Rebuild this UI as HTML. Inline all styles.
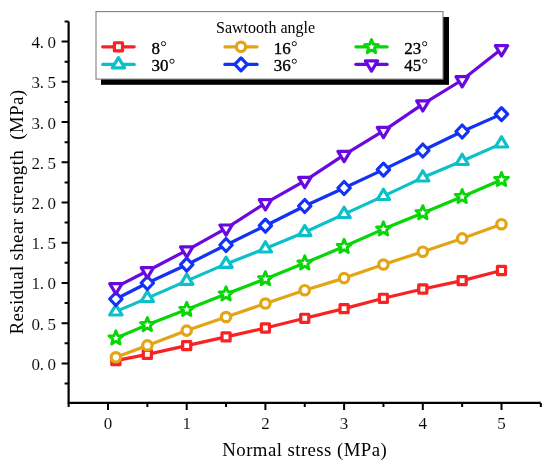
<!DOCTYPE html>
<html><head><meta charset="utf-8"><style>
html,body{margin:0;padding:0;background:#fff;width:550px;height:465px;overflow:hidden}
svg{display:block;will-change:transform}
text{font-family:"Liberation Serif",serif;fill:#000}
.tl text{stroke:#fff;stroke-width:0.1px}
.lg text{stroke:#000;stroke-width:0.35px}
</style></head><body>
<svg width="550" height="465" viewBox="0 0 550 465">
<rect width="550" height="465" fill="#fff"/>

<path d="M68.6 21.6V402.9H540.8" fill="none" stroke="#000" stroke-width="2.2" stroke-linejoin="miter"/>
<path d="M64.6 383.51H68.6M61.599999999999994 363.40H68.6M64.6 343.29H68.6M61.599999999999994 323.17H68.6M64.6 303.06H68.6M61.599999999999994 282.95H68.6M64.6 262.84H68.6M61.599999999999994 242.72H68.6M64.6 222.61H68.6M61.599999999999994 202.50H68.6M64.6 182.39H68.6M61.599999999999994 162.27H68.6M64.6 142.16H68.6M61.599999999999994 122.05H68.6M64.6 101.94H68.6M61.599999999999994 81.82H68.6M64.6 61.71H68.6M61.599999999999994 41.60H68.6M64.6 21.49H68.6M68.65 402.9V406.9M108.00 402.9V409.9M147.35 402.9V406.9M186.70 402.9V409.9M226.05 402.9V406.9M265.40 402.9V409.9M304.75 402.9V406.9M344.10 402.9V409.9M383.45 402.9V406.9M422.80 402.9V409.9M462.15 402.9V406.9M501.50 402.9V409.9M540.85 402.9V406.9" fill="none" stroke="#000" stroke-width="2"/>
<g class="tl" transform="translate(0 369.90)"><text x="31.6" y="0" font-size="17">0</text><text x="39.8" y="0" font-size="17">.</text><text x="47.6" y="0" font-size="17">0</text></g>
<g class="tl" transform="translate(0 329.67)"><text x="31.6" y="0" font-size="17">0</text><text x="39.8" y="0" font-size="17">.</text><text x="47.6" y="0" font-size="17">5</text></g>
<g class="tl" transform="translate(0 289.45)"><text x="31.6" y="0" font-size="17">1</text><text x="39.8" y="0" font-size="17">.</text><text x="47.6" y="0" font-size="17">0</text></g>
<g class="tl" transform="translate(0 249.22)"><text x="31.6" y="0" font-size="17">1</text><text x="39.8" y="0" font-size="17">.</text><text x="47.6" y="0" font-size="17">5</text></g>
<g class="tl" transform="translate(0 209.00)"><text x="31.6" y="0" font-size="17">2</text><text x="39.8" y="0" font-size="17">.</text><text x="47.6" y="0" font-size="17">0</text></g>
<g class="tl" transform="translate(0 168.77)"><text x="31.6" y="0" font-size="17">2</text><text x="39.8" y="0" font-size="17">.</text><text x="47.6" y="0" font-size="17">5</text></g>
<g class="tl" transform="translate(0 128.55)"><text x="31.6" y="0" font-size="17">3</text><text x="39.8" y="0" font-size="17">.</text><text x="47.6" y="0" font-size="17">0</text></g>
<g class="tl" transform="translate(0 88.32)"><text x="31.6" y="0" font-size="17">3</text><text x="39.8" y="0" font-size="17">.</text><text x="47.6" y="0" font-size="17">5</text></g>
<g class="tl" transform="translate(0 48.10)"><text x="31.6" y="0" font-size="17">4</text><text x="39.8" y="0" font-size="17">.</text><text x="47.6" y="0" font-size="17">0</text></g>
<g class="tl" transform="translate(108.00 429.3)"><text x="0" y="0" font-size="17" text-anchor="middle">0</text></g>
<g class="tl" transform="translate(186.70 429.3)"><text x="0" y="0" font-size="17" text-anchor="middle">1</text></g>
<g class="tl" transform="translate(265.40 429.3)"><text x="0" y="0" font-size="17" text-anchor="middle">2</text></g>
<g class="tl" transform="translate(344.10 429.3)"><text x="0" y="0" font-size="17" text-anchor="middle">3</text></g>
<g class="tl" transform="translate(422.80 429.3)"><text x="0" y="0" font-size="17" text-anchor="middle">4</text></g>
<g class="tl" transform="translate(501.50 429.3)"><text x="0" y="0" font-size="17" text-anchor="middle">5</text></g>
<text x="222.3" y="456.4" font-size="18.8" textLength="164.5" lengthAdjust="spacing">Normal stress (MPa)</text>
<text transform="translate(23.1 334.5) rotate(-90)" x="0" y="0" font-size="19" textLength="244.5" lengthAdjust="spacing" xml:space="preserve">Residual shear strength  (MPa)</text>
<polyline points="115.87,360.60 147.35,354.40 186.70,345.60 226.05,336.90 265.40,328.00 304.75,318.30 344.10,308.60 383.45,298.30 422.80,289.00 462.15,280.60 501.50,270.50" fill="none" stroke="#f82222" stroke-width="3.2" stroke-linejoin="round"/>
<rect x="111.82" y="356.55" width="8.1" height="8.1" fill="#fff" stroke="#f82222" stroke-width="3.2" stroke-linejoin="round"/>
<rect x="143.30" y="350.35" width="8.1" height="8.1" fill="#fff" stroke="#f82222" stroke-width="3.2" stroke-linejoin="round"/>
<rect x="182.65" y="341.55" width="8.1" height="8.1" fill="#fff" stroke="#f82222" stroke-width="3.2" stroke-linejoin="round"/>
<rect x="222.00" y="332.85" width="8.1" height="8.1" fill="#fff" stroke="#f82222" stroke-width="3.2" stroke-linejoin="round"/>
<rect x="261.35" y="323.95" width="8.1" height="8.1" fill="#fff" stroke="#f82222" stroke-width="3.2" stroke-linejoin="round"/>
<rect x="300.70" y="314.25" width="8.1" height="8.1" fill="#fff" stroke="#f82222" stroke-width="3.2" stroke-linejoin="round"/>
<rect x="340.05" y="304.55" width="8.1" height="8.1" fill="#fff" stroke="#f82222" stroke-width="3.2" stroke-linejoin="round"/>
<rect x="379.40" y="294.25" width="8.1" height="8.1" fill="#fff" stroke="#f82222" stroke-width="3.2" stroke-linejoin="round"/>
<rect x="418.75" y="284.95" width="8.1" height="8.1" fill="#fff" stroke="#f82222" stroke-width="3.2" stroke-linejoin="round"/>
<rect x="458.10" y="276.55" width="8.1" height="8.1" fill="#fff" stroke="#f82222" stroke-width="3.2" stroke-linejoin="round"/>
<rect x="497.45" y="266.45" width="8.1" height="8.1" fill="#fff" stroke="#f82222" stroke-width="3.2" stroke-linejoin="round"/>
<polyline points="115.87,357.30 147.35,345.40 186.70,330.60 226.05,317.00 265.40,303.50 304.75,290.20 344.10,278.10 383.45,264.50 422.80,251.70 462.15,238.40 501.50,224.20" fill="none" stroke="#e3a416" stroke-width="3.2" stroke-linejoin="round"/>
<circle cx="115.87" cy="357.30" r="4.7" fill="#fff" stroke="#e3a416" stroke-width="3.2"/>
<circle cx="147.35" cy="345.40" r="4.7" fill="#fff" stroke="#e3a416" stroke-width="3.2"/>
<circle cx="186.70" cy="330.60" r="4.7" fill="#fff" stroke="#e3a416" stroke-width="3.2"/>
<circle cx="226.05" cy="317.00" r="4.7" fill="#fff" stroke="#e3a416" stroke-width="3.2"/>
<circle cx="265.40" cy="303.50" r="4.7" fill="#fff" stroke="#e3a416" stroke-width="3.2"/>
<circle cx="304.75" cy="290.20" r="4.7" fill="#fff" stroke="#e3a416" stroke-width="3.2"/>
<circle cx="344.10" cy="278.10" r="4.7" fill="#fff" stroke="#e3a416" stroke-width="3.2"/>
<circle cx="383.45" cy="264.50" r="4.7" fill="#fff" stroke="#e3a416" stroke-width="3.2"/>
<circle cx="422.80" cy="251.70" r="4.7" fill="#fff" stroke="#e3a416" stroke-width="3.2"/>
<circle cx="462.15" cy="238.40" r="4.7" fill="#fff" stroke="#e3a416" stroke-width="3.2"/>
<circle cx="501.50" cy="224.20" r="4.7" fill="#fff" stroke="#e3a416" stroke-width="3.2"/>
<polyline points="115.87,338.10 147.35,324.80 186.70,309.60 226.05,294.10 265.40,278.90 304.75,263.10 344.10,246.60 383.45,229.10 422.80,212.90 462.15,196.70 501.50,179.70" fill="none" stroke="#06d606" stroke-width="3.2" stroke-linejoin="round"/>
<path d="M115.87 330.80L117.72 335.56L122.81 335.84L118.86 339.07L120.16 344.01L115.87 341.24L111.58 344.01L112.88 339.07L108.93 335.84L114.02 335.56Z" fill="#fff" stroke="#06d606" stroke-width="2.8" stroke-linejoin="round"/>
<path d="M147.35 317.50L149.20 322.26L154.29 322.54L150.34 325.77L151.64 330.71L147.35 327.94L143.06 330.71L144.36 325.77L140.41 322.54L145.50 322.26Z" fill="#fff" stroke="#06d606" stroke-width="2.8" stroke-linejoin="round"/>
<path d="M186.70 302.30L188.55 307.06L193.64 307.34L189.69 310.57L190.99 315.51L186.70 312.74L182.41 315.51L183.71 310.57L179.76 307.34L184.85 307.06Z" fill="#fff" stroke="#06d606" stroke-width="2.8" stroke-linejoin="round"/>
<path d="M226.05 286.80L227.90 291.56L232.99 291.84L229.04 295.07L230.34 300.01L226.05 297.24L221.76 300.01L223.06 295.07L219.11 291.84L224.20 291.56Z" fill="#fff" stroke="#06d606" stroke-width="2.8" stroke-linejoin="round"/>
<path d="M265.40 271.60L267.25 276.36L272.34 276.64L268.39 279.87L269.69 284.81L265.40 282.04L261.11 284.81L262.41 279.87L258.46 276.64L263.55 276.36Z" fill="#fff" stroke="#06d606" stroke-width="2.8" stroke-linejoin="round"/>
<path d="M304.75 255.80L306.60 260.56L311.69 260.84L307.74 264.07L309.04 269.01L304.75 266.24L300.46 269.01L301.76 264.07L297.81 260.84L302.90 260.56Z" fill="#fff" stroke="#06d606" stroke-width="2.8" stroke-linejoin="round"/>
<path d="M344.10 239.30L345.95 244.06L351.04 244.34L347.09 247.57L348.39 252.51L344.10 249.74L339.81 252.51L341.11 247.57L337.16 244.34L342.25 244.06Z" fill="#fff" stroke="#06d606" stroke-width="2.8" stroke-linejoin="round"/>
<path d="M383.45 221.80L385.30 226.56L390.39 226.84L386.44 230.07L387.74 235.01L383.45 232.24L379.16 235.01L380.46 230.07L376.51 226.84L381.60 226.56Z" fill="#fff" stroke="#06d606" stroke-width="2.8" stroke-linejoin="round"/>
<path d="M422.80 205.60L424.65 210.36L429.74 210.64L425.79 213.87L427.09 218.81L422.80 216.04L418.51 218.81L419.81 213.87L415.86 210.64L420.95 210.36Z" fill="#fff" stroke="#06d606" stroke-width="2.8" stroke-linejoin="round"/>
<path d="M462.15 189.40L464.00 194.16L469.09 194.44L465.14 197.67L466.44 202.61L462.15 199.84L457.86 202.61L459.16 197.67L455.21 194.44L460.30 194.16Z" fill="#fff" stroke="#06d606" stroke-width="2.8" stroke-linejoin="round"/>
<path d="M501.50 172.40L503.35 177.16L508.44 177.44L504.49 180.67L505.79 185.61L501.50 182.84L497.21 185.61L498.51 180.67L494.56 177.44L499.65 177.16Z" fill="#fff" stroke="#06d606" stroke-width="2.8" stroke-linejoin="round"/>
<polyline points="115.87,311.60 147.35,298.10 186.70,280.90 226.05,263.90 265.40,248.60 304.75,232.30 344.10,214.10 383.45,196.10 422.80,177.60 462.15,161.10 501.50,143.60" fill="none" stroke="#0cc0c8" stroke-width="3.2" stroke-linejoin="round"/>
<path d="M115.87 304.80L122.02 315.00L109.72 315.00Z" fill="#fff" stroke="#0cc0c8" stroke-width="3.2" stroke-linejoin="round"/>
<path d="M147.35 291.30L153.50 301.50L141.20 301.50Z" fill="#fff" stroke="#0cc0c8" stroke-width="3.2" stroke-linejoin="round"/>
<path d="M186.70 274.10L192.85 284.30L180.55 284.30Z" fill="#fff" stroke="#0cc0c8" stroke-width="3.2" stroke-linejoin="round"/>
<path d="M226.05 257.10L232.20 267.30L219.90 267.30Z" fill="#fff" stroke="#0cc0c8" stroke-width="3.2" stroke-linejoin="round"/>
<path d="M265.40 241.80L271.55 252.00L259.25 252.00Z" fill="#fff" stroke="#0cc0c8" stroke-width="3.2" stroke-linejoin="round"/>
<path d="M304.75 225.50L310.90 235.70L298.60 235.70Z" fill="#fff" stroke="#0cc0c8" stroke-width="3.2" stroke-linejoin="round"/>
<path d="M344.10 207.30L350.25 217.50L337.95 217.50Z" fill="#fff" stroke="#0cc0c8" stroke-width="3.2" stroke-linejoin="round"/>
<path d="M383.45 189.30L389.60 199.50L377.30 199.50Z" fill="#fff" stroke="#0cc0c8" stroke-width="3.2" stroke-linejoin="round"/>
<path d="M422.80 170.80L428.95 181.00L416.65 181.00Z" fill="#fff" stroke="#0cc0c8" stroke-width="3.2" stroke-linejoin="round"/>
<path d="M462.15 154.30L468.30 164.50L456.00 164.50Z" fill="#fff" stroke="#0cc0c8" stroke-width="3.2" stroke-linejoin="round"/>
<path d="M501.50 136.80L507.65 147.00L495.35 147.00Z" fill="#fff" stroke="#0cc0c8" stroke-width="3.2" stroke-linejoin="round"/>
<polyline points="115.87,299.00 147.35,283.00 186.70,264.70 226.05,245.00 265.40,225.70 304.75,206.00 344.10,188.00 383.45,169.60 422.80,150.50 462.15,131.50 501.50,114.10" fill="none" stroke="#1232f6" stroke-width="3.2" stroke-linejoin="round"/>
<path d="M115.87 292.50L122.07 299.00L115.87 305.50L109.67 299.00Z" fill="#fff" stroke="#1232f6" stroke-width="3.2" stroke-linejoin="round"/>
<path d="M147.35 276.50L153.55 283.00L147.35 289.50L141.15 283.00Z" fill="#fff" stroke="#1232f6" stroke-width="3.2" stroke-linejoin="round"/>
<path d="M186.70 258.20L192.90 264.70L186.70 271.20L180.50 264.70Z" fill="#fff" stroke="#1232f6" stroke-width="3.2" stroke-linejoin="round"/>
<path d="M226.05 238.50L232.25 245.00L226.05 251.50L219.85 245.00Z" fill="#fff" stroke="#1232f6" stroke-width="3.2" stroke-linejoin="round"/>
<path d="M265.40 219.20L271.60 225.70L265.40 232.20L259.20 225.70Z" fill="#fff" stroke="#1232f6" stroke-width="3.2" stroke-linejoin="round"/>
<path d="M304.75 199.50L310.95 206.00L304.75 212.50L298.55 206.00Z" fill="#fff" stroke="#1232f6" stroke-width="3.2" stroke-linejoin="round"/>
<path d="M344.10 181.50L350.30 188.00L344.10 194.50L337.90 188.00Z" fill="#fff" stroke="#1232f6" stroke-width="3.2" stroke-linejoin="round"/>
<path d="M383.45 163.10L389.65 169.60L383.45 176.10L377.25 169.60Z" fill="#fff" stroke="#1232f6" stroke-width="3.2" stroke-linejoin="round"/>
<path d="M422.80 144.00L429.00 150.50L422.80 157.00L416.60 150.50Z" fill="#fff" stroke="#1232f6" stroke-width="3.2" stroke-linejoin="round"/>
<path d="M462.15 125.00L468.35 131.50L462.15 138.00L455.95 131.50Z" fill="#fff" stroke="#1232f6" stroke-width="3.2" stroke-linejoin="round"/>
<path d="M501.50 107.60L507.70 114.10L501.50 120.60L495.30 114.10Z" fill="#fff" stroke="#1232f6" stroke-width="3.2" stroke-linejoin="round"/>
<polyline points="115.87,287.10 147.35,271.00 186.70,250.30 226.05,228.40 265.40,203.10 304.75,180.80 344.10,154.80 383.45,130.80 422.80,104.20 462.15,80.00 501.50,49.10" fill="none" stroke="#6a08e0" stroke-width="3.2" stroke-linejoin="round"/>
<path d="M115.87 293.90L122.02 283.70L109.72 283.70Z" fill="#fff" stroke="#6a08e0" stroke-width="3.2" stroke-linejoin="round"/>
<path d="M147.35 277.80L153.50 267.60L141.20 267.60Z" fill="#fff" stroke="#6a08e0" stroke-width="3.2" stroke-linejoin="round"/>
<path d="M186.70 257.10L192.85 246.90L180.55 246.90Z" fill="#fff" stroke="#6a08e0" stroke-width="3.2" stroke-linejoin="round"/>
<path d="M226.05 235.20L232.20 225.00L219.90 225.00Z" fill="#fff" stroke="#6a08e0" stroke-width="3.2" stroke-linejoin="round"/>
<path d="M265.40 209.90L271.55 199.70L259.25 199.70Z" fill="#fff" stroke="#6a08e0" stroke-width="3.2" stroke-linejoin="round"/>
<path d="M304.75 187.60L310.90 177.40L298.60 177.40Z" fill="#fff" stroke="#6a08e0" stroke-width="3.2" stroke-linejoin="round"/>
<path d="M344.10 161.60L350.25 151.40L337.95 151.40Z" fill="#fff" stroke="#6a08e0" stroke-width="3.2" stroke-linejoin="round"/>
<path d="M383.45 137.60L389.60 127.40L377.30 127.40Z" fill="#fff" stroke="#6a08e0" stroke-width="3.2" stroke-linejoin="round"/>
<path d="M422.80 111.00L428.95 100.80L416.65 100.80Z" fill="#fff" stroke="#6a08e0" stroke-width="3.2" stroke-linejoin="round"/>
<path d="M462.15 86.80L468.30 76.60L456.00 76.60Z" fill="#fff" stroke="#6a08e0" stroke-width="3.2" stroke-linejoin="round"/>
<path d="M501.50 55.90L507.65 45.70L495.35 45.70Z" fill="#fff" stroke="#6a08e0" stroke-width="3.2" stroke-linejoin="round"/>
<rect x="101" y="17" width="348" height="67.8" fill="#000"/>
<rect x="96" y="11.6" width="347" height="67.5" fill="#fff" stroke="#808080" stroke-width="1.1"/>
<text x="216" y="33" font-size="16">Sawtooth angle</text>
<path d="M102.7 46.8H134.2" stroke="#f82222" stroke-width="3.2" stroke-linecap="round"/>
<rect x="114.40" y="42.75" width="8.1" height="8.1" fill="#fff" stroke="#f82222" stroke-width="3.2" stroke-linejoin="round"/>
<g class="lg" transform="translate(151.5 53.50) scale(1 1.04)"><text x="0" y="0" font-size="17">8</text></g>
<circle cx="163.50" cy="43.65" r="2.1" fill="none" stroke="#000" stroke-width="0.9"/>
<path d="M102.7 64.4H134.2" stroke="#0cc0c8" stroke-width="3.2" stroke-linecap="round"/>
<path d="M118.45 57.60L124.60 67.80L112.30 67.80Z" fill="#fff" stroke="#0cc0c8" stroke-width="3.2" stroke-linejoin="round"/>
<g class="lg" transform="translate(151.5 71.10) scale(1 1.04)"><text x="0" y="0" font-size="17">30</text></g>
<circle cx="172.00" cy="61.25" r="2.1" fill="none" stroke="#000" stroke-width="0.9"/>
<path d="M224.9 46.8H257.1" stroke="#e3a416" stroke-width="3.2" stroke-linecap="round"/>
<circle cx="241.00" cy="46.80" r="4.7" fill="#fff" stroke="#e3a416" stroke-width="3.2"/>
<g class="lg" transform="translate(273.8 53.50) scale(1 1.04)"><text x="0" y="0" font-size="17">16</text></g>
<circle cx="294.30" cy="43.65" r="2.1" fill="none" stroke="#000" stroke-width="0.9"/>
<path d="M224.9 64.4H257.1" stroke="#1232f6" stroke-width="3.2" stroke-linecap="round"/>
<path d="M241.00 57.90L247.20 64.40L241.00 70.90L234.80 64.40Z" fill="#fff" stroke="#1232f6" stroke-width="3.2" stroke-linejoin="round"/>
<g class="lg" transform="translate(273.8 71.10) scale(1 1.04)"><text x="0" y="0" font-size="17">36</text></g>
<circle cx="294.30" cy="61.25" r="2.1" fill="none" stroke="#000" stroke-width="0.9"/>
<path d="M355.9 46.8H387.1" stroke="#06d606" stroke-width="3.2" stroke-linecap="round"/>
<path d="M371.50 39.50L373.35 44.26L378.44 44.54L374.49 47.77L375.79 52.71L371.50 49.94L367.21 52.71L368.51 47.77L364.56 44.54L369.65 44.26Z" fill="#fff" stroke="#06d606" stroke-width="2.8" stroke-linejoin="round"/>
<g class="lg" transform="translate(404.2 53.50) scale(1 1.04)"><text x="0" y="0" font-size="17">23</text></g>
<circle cx="424.70" cy="43.65" r="2.1" fill="none" stroke="#000" stroke-width="0.9"/>
<path d="M355.9 64.3H387.1" stroke="#6a08e0" stroke-width="3.2" stroke-linecap="round"/>
<path d="M371.50 71.10L377.65 60.90L365.35 60.90Z" fill="#fff" stroke="#6a08e0" stroke-width="3.2" stroke-linejoin="round"/>
<g class="lg" transform="translate(404.2 71.00) scale(1 1.04)"><text x="0" y="0" font-size="17">45</text></g>
<circle cx="424.70" cy="61.15" r="2.1" fill="none" stroke="#000" stroke-width="0.9"/>
</svg></body></html>
